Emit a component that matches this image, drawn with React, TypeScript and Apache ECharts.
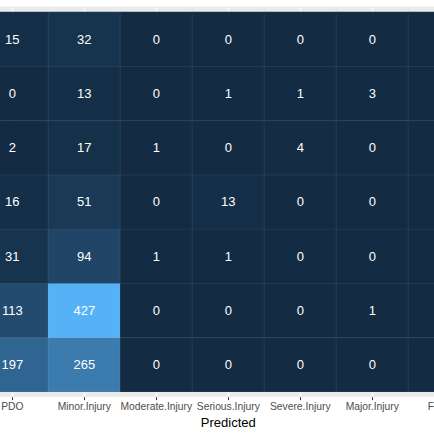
import React, { useEffect, useRef } from "react";
import * as echarts from "echarts";

const predictedLabels = ["PDO", "Minor.Injury", "Moderate.Injury", "Serious.Injury", "Severe.Injury", "Major.Injury", "Fatality"];
const actualLabels = ["PDO", "Minor.Injury", "Moderate.Injury", "Serious.Injury", "Severe.Injury", "Major.Injury", "Fatality"];

// counts for each actual class (bottom to top), across predicted classes
const actualPDO = [197, 265, 0, 0, 0, 0, 0];
const actualMinor = [113, 427, 0, 0, 0, 1, 0];
const actualModerate = [31, 94, 1, 1, 0, 0, 0];
const actualSerious = [16, 51, 0, 13, 0, 0, 0];
const actualSevere = [2, 17, 1, 0, 4, 0, 0];
const actualMajor = [0, 13, 0, 1, 1, 3, 0];
const actualFatality = [15, 32, 0, 0, 0, 0, 0];
const matrix = [actualPDO, actualMinor, actualModerate, actualSerious, actualSevere, actualMajor, actualFatality];

// the last predicted column lies outside the cropped view; its cell labels are not visible
const visibleColumns = 6;

const LOW = "#132B43";
const HIGH = "#56B1F7";

function hexToRgb(h: string) {
  const n = parseInt(h.slice(1), 16);
  return [(n >> 16) & 255, (n >> 8) & 255, n & 255];
}
function lin(c: number) { c /= 255; return c <= 0.04045 ? c / 12.92 : Math.pow((c + 0.055) / 1.055, 2.4); }
function delin(c: number) { const v = c <= 0.0031308 ? 12.92 * c : 1.055 * Math.pow(c, 1 / 2.4) - 0.055; return Math.max(0, Math.min(255, Math.round(v * 255))); }
const WX = 0.95047, WY = 1, WZ = 1.08883;
function f(t: number) { return t > 216 / 24389 ? Math.cbrt(t) : (24389 / 27 * t + 16) / 116; }
function finv(t: number) { return t * t * t > 216 / 24389 ? t * t * t : (116 * t - 16) / (24389 / 27); }
function toLab(h: string) {
  const [r, g, b] = hexToRgb(h).map(lin);
  const x = 0.4124 * r + 0.3576 * g + 0.1805 * b;
  const y = 0.2126 * r + 0.7152 * g + 0.0722 * b;
  const z = 0.0193 * r + 0.1192 * g + 0.9505 * b;
  const fx = f(x / WX), fy = f(y / WY), fz = f(z / WZ);
  return [116 * fy - 16, 500 * (fx - fy), 200 * (fy - fz)];
}
function fromLab(L: number, a: number, bb: number) {
  const fy = (L + 16) / 116, fx = fy + a / 500, fz = fy - bb / 200;
  const x = WX * finv(fx), y = WY * finv(fy), z = WZ * finv(fz);
  const r = 3.2406 * x - 1.5372 * y - 0.4986 * z;
  const g = -0.9689 * x + 1.8758 * y + 0.0415 * z;
  const b = 0.0557 * x - 0.2040 * y + 1.0570 * z;
  return "rgb(" + delin(r) + "," + delin(g) + "," + delin(b) + ")";
}
function labRamp(n: number) {
  const a = toLab(LOW), b = toLab(HIGH);
  const out: string[] = [];
  for (let i = 0; i < n; i++) {
    const t = i / (n - 1);
    out.push(fromLab(a[0] + (b[0] - a[0]) * t, a[1] + (b[1] - a[1]) * t, a[2] + (b[2] - a[2]) * t));
  }
  return out;
}

const FONT = "Liberation Sans, Arial, sans-serif";

export default function App() {
  const ref = useRef<HTMLDivElement>(null);
  useEffect(() => {
    if (!ref.current) return;
    const chart = echarts.init(ref.current, null, { renderer: "svg" });
    const data: any[] = [];
    matrix.forEach((row, yi) =>
      row.forEach((v, xi) =>
        data.push(xi < visibleColumns ? [xi, yi, v] : { value: [xi, yi, v], label: { show: false } })
      )
    );
    let maxV = 0;
    matrix.forEach((r) => r.forEach((v) => { if (v > maxV) maxV = v; }));
    const colW = 72;
    const left = -23.7;
    const top = 12;
    const h = 379.7;
    const pad = 5.4;
    chart.setOption({
      animation: false,
      backgroundColor: "#FFFFFF",
      textStyle: { fontFamily: FONT },
      grid: [
        {
          left: left - colW / 2, top: top - pad, width: colW * 8, height: h + 2 * pad,
          show: true, backgroundColor: "#EBEBEB", borderWidth: 0, containLabel: false, outerBoundsMode: "none",
        },
        {
          left: left, top: top, width: colW * 7, height: h,
          show: false, containLabel: false, outerBoundsMode: "none",
        },
      ],
      xAxis: [
        {
          gridIndex: 0, type: "value", min: -1, max: 7, interval: 1,
          axisLine: { show: false }, axisTick: { show: false }, axisLabel: { show: false },
          splitLine: { show: true, lineStyle: { color: "#FFFFFF", width: 1 } },
        },
        {
          gridIndex: 1, type: "category", data: predictedLabels, position: "bottom", offset: pad,
          axisLine: { show: false },
          axisTick: { show: true, alignWithLabel: true, length: 3, lineStyle: { color: "#333333", width: 1 } },
          axisLabel: { show: true, interval: 0, margin: 4, fontSize: 10.3, color: "#4D4D4D", fontFamily: FONT },
          splitLine: { show: false },
          name: "Predicted", nameLocation: "middle", nameGap: 13.5,
          nameTextStyle: { fontSize: 13, color: "#000000", fontFamily: FONT },
        },
      ],
      yAxis: [
        { gridIndex: 0, type: "value", min: 0, max: 1, show: false, splitLine: { show: false } },
        { gridIndex: 1, type: "category", data: actualLabels, show: false },
      ],
      visualMap: {
        show: false, min: 0, max: maxV, dimension: 2, seriesIndex: 0,
        inRange: { color: labRamp(21) },
      },
      series: [
        {
          type: "heatmap", xAxisIndex: 1, yAxisIndex: 1, data,
          itemStyle: { borderColor: "rgba(235,235,235,0.12)", borderWidth: 0.6 },
          label: {
            show: true, color: "#FFFFFF", fontSize: 13, fontFamily: FONT,
            formatter: (p: any) => String(p.value[2]),
          },
          emphasis: { disabled: true },
        },
      ],
    });
    return () => chart.dispose();
  }, []);
  return (
    <div
      ref={ref}
      style={{ position: "fixed", left: 0, top: 0, width: 434, height: 434, background: "#FFFFFF" }}
    />
  );
}
